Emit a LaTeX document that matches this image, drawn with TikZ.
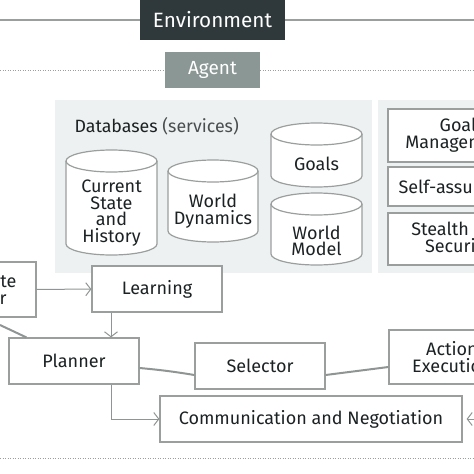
\documentclass[tikz,border=0pt]{standalone}
\usepackage{fontspec}
\setmainfont{Fira Sans}
\usetikzlibrary{arrows.meta,positioning}

\definecolor{boxline}{HTML}{9A9F9E}
\definecolor{linkgray}{HTML}{8F9594}
\definecolor{panelfill}{HTML}{EEF1F2}
\definecolor{envfill}{HTML}{2F393B}
\definecolor{agentfill}{HTML}{8B9795}
\definecolor{inktext}{HTML}{1C2224}

\tikzset{
  block/.style={draw=boxline,line width=1.2pt,fill=white,text=inktext,
    font=\fontsize{18}{17}\selectfont,align=center,inner sep=0pt},
  dbline/.style={draw=boxline,line width=1.2pt,fill=white},
  dbtext/.style={text=inktext,font=\fontsize{18}{16.5}\selectfont,align=center},
  flow/.style={draw=linkgray,line width=1pt,-{Straight Barb[length=5pt,width=13pt]}},
  link/.style={draw=linkgray,line width=2pt},
  rule/.style={draw=boxline,line width=1.2pt},
  dots/.style={draw=boxline,line width=1pt,dash pattern=on 1pt off 1.5pt},
}

% database drum: centre x, top, bottom, x radius, y radius
\newcommand{\dbdrum}[5]{%
  \filldraw[dbline] (#1-#4,#2+#5) -- (#1-#4,#3-#5)
    arc[start angle=180,end angle=0,x radius=#4,y radius=#5]
    -- (#1+#4,#2+#5)
    arc[start angle=0,end angle=-180,x radius=#4,y radius=#5] -- cycle;
  \draw[dbline,fill=none] (#1-#4,#2+#5)
    arc[start angle=180,end angle=0,x radius=#4,y radius=#5];
}

\begin{document}
\begin{tikzpicture}[x=1pt,y=-1pt]
\useasboundingbox (0,0) rectangle (474,474);
\clip (0,0) rectangle (474,474);

% Environment and agent headers
\node[fill=envfill,text=white,minimum width=145pt,minimum height=40pt,
  font=\fontsize{20.7}{22}\selectfont] (env) at (212.5,20) {Environment};
\node[fill=agentfill,text=white,minimum width=95pt,minimum height=36pt,
  font=\fontsize{19}{20}\selectfont] (agent) at (212.5,70) {Agent};
\coordinate (envL) at (0,20);
\coordinate (envR) at (474,20);
\coordinate (agL) at (0,70);
\coordinate (agR) at (474,70);
\coordinate (botL) at (0,458);
\coordinate (botR) at (474,458);
\draw[rule] (envL) -- (env.west) (env.east) -- (envR);
\draw[dots] (agL) -- (agent.west) (agent.east) -- (agR);
\draw[dots] (botL) -- (botR);

% Grey panels
\fill[panelfill] (55,100) rectangle (372,273);
\fill[panelfill] (378,100) rectangle (540,273);
\node[anchor=west,text=inktext,font=\fontsize{17.8}{19}\selectfont] (dblabel) at (71,126)
  {Databases \textcolor{inktext!80}{(services)}};

% Databases
\dbdrum{111.5}{150}{255}{45.5}{11}
\dbdrum{213}{160}{242}{45}{11}
\dbdrum{316.5}{123}{187}{45.5}{11}
\dbdrum{316.5}{193}{265}{45.5}{11}
\node[dbtext] (hist) at (111.5,213) {Current\\State\\and\\History};
\node[dbtext] (dyn) at (213,211) {World\\Dynamics};
\node[dbtext] (goals) at (316.5,164) {Goals};
\node[dbtext] (model) at (316.5,241) {World\\Model};

% Services on the right
\node[block,minimum width=140pt,minimum height=53pt] (goalmg) at (458,135.5) {Goal\\Management};
\node[block,minimum width=140pt,minimum height=39pt] (selfas) at (458,186.5) {Self-assurance};
\node[block,minimum width=140pt,minimum height=52pt] (stealth) at (458,239) {Stealth and\\Security};

% Main components
\node[block,minimum width=134pt,minimum height=55pt] (ident) at (-31,289.5) {World State\\Identifier};
\node[block,minimum width=130pt,minimum height=46pt] (learn) at (157,289) {Learning};
\node[block,minimum width=130pt,minimum height=46pt] (plan) at (74,361) {Planner};
\node[block,minimum width=130pt,minimum height=46pt] (sel) at (260,366) {Selector};
\node[block,minimum width=126pt,minimum height=54pt] (act) at (452,357) {Action\\Execution};
\node[block,minimum width=302pt,minimum height=46pt] (comm) at (311,419) {Communication and Negotiation};

% Connectors
\coordinate (drop) at (111,0);
\coordinate (identL) at (0,325);
\coordinate (commin) at (490,419);
\draw[flow] (ident) -- (learn);
\draw[flow] (learn.south -| drop) -- (plan.north -| drop);
\draw[flow] (plan.south -| drop) |- (comm.west);
\draw[flow] (commin) -- ([xshift=4pt]comm.east);
\draw[link] (identL) -- ([xshift=18pt]plan.north west);
\draw[link] ([yshift=-7pt]plan.east) to[bend left=2] ([yshift=-9pt]sel.west);
\draw[link] ([yshift=-9pt]sel.east) -- ([yshift=-10pt]act.west);

\end{tikzpicture}
\end{document}
